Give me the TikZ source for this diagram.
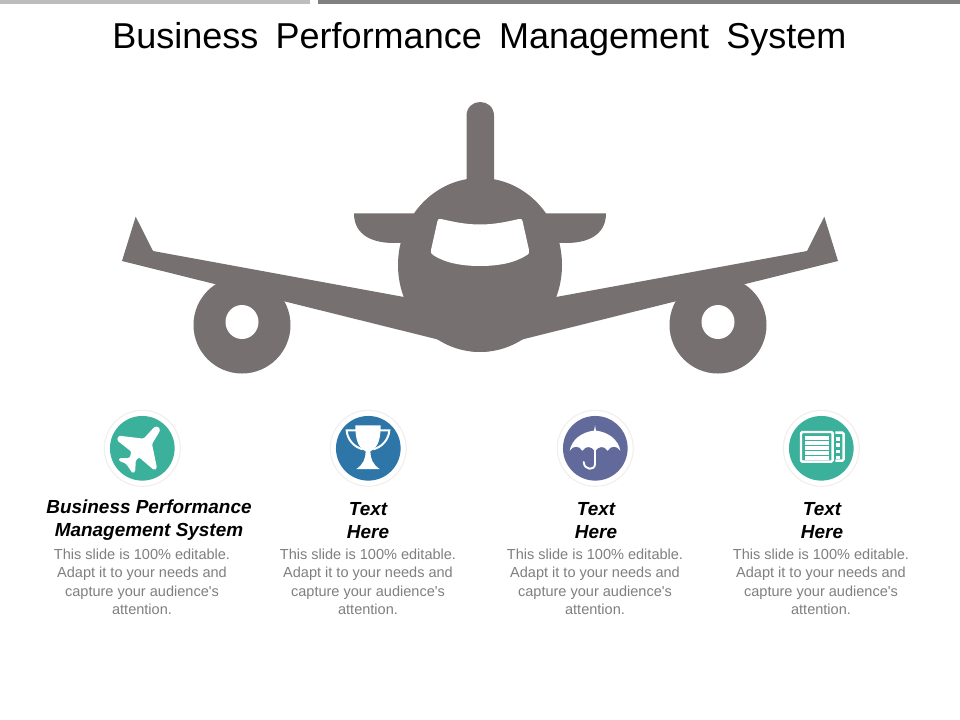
\documentclass[tikz,border=0pt]{standalone}
\usepackage{fontspec}
\setmainfont{Liberation Sans}
\definecolor{plane}{HTML}{767070}
\definecolor{tealc}{HTML}{3BB09A}
\definecolor{bluec}{HTML}{2E75A8}
\definecolor{purplec}{HTML}{626A9B}
\definecolor{bodyc}{HTML}{7F7F7F}
\definecolor{haloc}{HTML}{F3EDED}
\tikzset{
  body/.style={fill=plane,draw=none},
  cut/.style={fill=white,draw=none},
  halo/.style={circle,fill=white,draw=haloc,line width=0.8pt,minimum size=57pt,inner sep=0pt},
  disc/.style={circle,minimum size=48.5pt,inner sep=0pt,fill=#1},
  heading/.style={font=\fontsize{14.2}{17.25}\selectfont\bfseries\itshape,align=center,anchor=center,text=black},
  para/.style={font=\fontsize{10.9}{13.7}\selectfont,align=center,anchor=north,text=bodyc,inner sep=0pt},
  glyph/.style={fill=white,draw=none},
  glyphline/.style={draw=white,fill=none,line width=1.5pt}
}
\newcommand{\bodytext}{This slide is 100\% editable.\\Adapt it to your needs and\\capture your audience\textquotesingle s\\attention.}
\begin{document}
\begin{tikzpicture}[x=0.75pt,y=-0.75pt]
\useasboundingbox (0,0) rectangle (960,720);
\fill[white] (0,0) rectangle (960,720);
\fill[black!26] (0,0) rectangle (310,4);
\fill[black!50] (318,0) rectangle (960,4);
\node[font=\fontsize{27}{32}\selectfont,anchor=center,inner sep=0pt] (title) at (479.5,39.5) {\spaceskip=0.48em Business Performance Management System};
% airplane
\fill[body] (466.5,190) -- (466.5,116) .. controls (466.5,107) and (473,102) .. (480.2,102) .. controls (487.5,102) and (494,107) .. (494,116) -- (494,190) -- cycle;
\fill[body] (354,213.5) -- (606,213.5) .. controls (606,232) and (592,243) .. (566,243) -- (394,243) .. controls (368,243) and (354,232) .. (354,213.5) -- cycle;
\fill[body] (480,265) ellipse [x radius=82,y radius=87];
\fill[body] (242,325) circle [radius=48.5];
\fill[body] (718,325) circle [radius=48.5];
\fill[body] (122,261) -- (135.7,216.7) -- (153,251) -- (404,297) -- (556,297) -- (807,251) -- (824.3,216.7) -- (838,261)
  -- (520,340) .. controls (505,345) and (495,352) .. (480,352) .. controls (465,352) and (455,345) .. (440,340) -- cycle;
\fill[cut] (242,322) ellipse [x radius=16.5,y radius=17];
\fill[cut] (718,322) ellipse [x radius=16.5,y radius=17];
\fill[cut] (441,219) .. controls (454,222) and (466,224.5) .. (480,224.5) .. controls (494,224.5) and (506,222) .. (519,219)
  .. controls (521,218.5) and (522,219) .. (522.5,221) -- (529,250) .. controls (529.5,253) and (528.5,254) .. (527,255)
  .. controls (515,263) and (498,266) .. (480,266) .. controls (462,266) and (445,263) .. (433,255)
  .. controls (431.5,254) and (430.5,253) .. (431,250) -- (437.5,221) .. controls (438,219) and (439,218.5) .. (441,219) -- cycle;
% badges
\node[halo] (h1) at (142.3,448.3) {};
\node[disc=tealc] (d1) at (142.3,448.3) {};
\node[halo] (h2) at (368.3,448.3) {};
\node[disc=bluec] (d2) at (368.3,448.3) {};
\node[halo] (h3) at (595.3,448.3) {};
\node[disc=purplec] (d3) at (595.3,448.3) {};
\node[halo] (h4) at (821.3,448.3) {};
\node[disc=tealc] (d4) at (821.3,448.3) {};
% plane icon
\begin{scope}[shift={(102,408)},x=0.25pt,y=-0.25pt]
\fill[glyph,rounded corners=1pt] (155,59) .. controls (165,53) and (176,60) .. (172,72) -- (150,108) -- (165,180) -- (157,187) -- (111,148) -- (101,158) -- (100,190) -- (92,196) -- (72,167) -- (50,158) -- (52,150) -- (83,150) -- (88,131) -- (45,97) -- (50,83) -- (125,92) -- cycle;
\end{scope}
% trophy icon
\begin{scope}[shift={(328,408)},x=0.25pt,y=-0.25pt]
\fill[glyph] (82,52) -- (158,52) .. controls (158,95) and (150,118) .. (127,130) .. controls (127,152) and (135,170) .. (155,183) -- (85,183)
  .. controls (105,170) and (113,152) .. (113,130) .. controls (90,118) and (82,95) .. (82,52) -- cycle;
\draw[glyphline] (84,67) -- (56,67) .. controls (58,95) and (78,117) .. (104,124);
\draw[glyphline] (156,67) -- (184,67) .. controls (182,95) and (162,117) .. (136,124);
\end{scope}
% umbrella icon
\begin{scope}[shift={(555,408)},x=0.25pt,y=-0.25pt]
\fill[glyph] (120,52) -- (123,68) .. controls (160,72) and (190,95) .. (196,128)
  .. controls (185,112) and (168,112) .. (158,128) .. controls (148,113) and (130,113) .. (120,130)
  .. controls (110,113) and (92,113) .. (82,128) .. controls (72,112) and (55,112) .. (44,128)
  .. controls (50,95) and (80,72) .. (117,68) -- cycle;
\draw[draw=white,line width=1.4pt,line cap=round] (120,125) -- (120,168) .. controls (120,188) and (88,188) .. (86,162);
\end{scope}
% document icon
\begin{scope}[shift={(781,408)},x=0.25pt,y=-0.25pt]
\draw[glyphline,line width=1.8pt,rounded corners=1pt] (60,72) rectangle (155,161);
\foreach \yy in {84,99,114,129,144}{\fill[glyph] (71,\yy) rectangle (144,\yy+11);}
\draw[glyphline,line width=1.8pt,rounded corners=1pt] (163,74) -- (188,74) -- (188,158) -- (163,158);
\foreach \yy in {87,106,125,143}{\fill[glyph] (165,\yy) rectangle (176,\yy+11);}
\end{scope}
% text
\node[heading] (t1) at (149,520.5) {Business Performance\\Management System};
\node[heading] (t2) at (368,520.5) {Text\\Here};
\node[heading] (t3) at (596,520.5) {Text\\Here};
\node[heading] (t4) at (822,520.5) {Text\\Here};
\node[para] (p1) at (142,548.7) {\bodytext};
\node[para] (p2) at (368,548.7) {\bodytext};
\node[para] (p3) at (595,548.7) {\bodytext};
\node[para] (p4) at (821,548.7) {\bodytext};
\end{tikzpicture}
\end{document}
